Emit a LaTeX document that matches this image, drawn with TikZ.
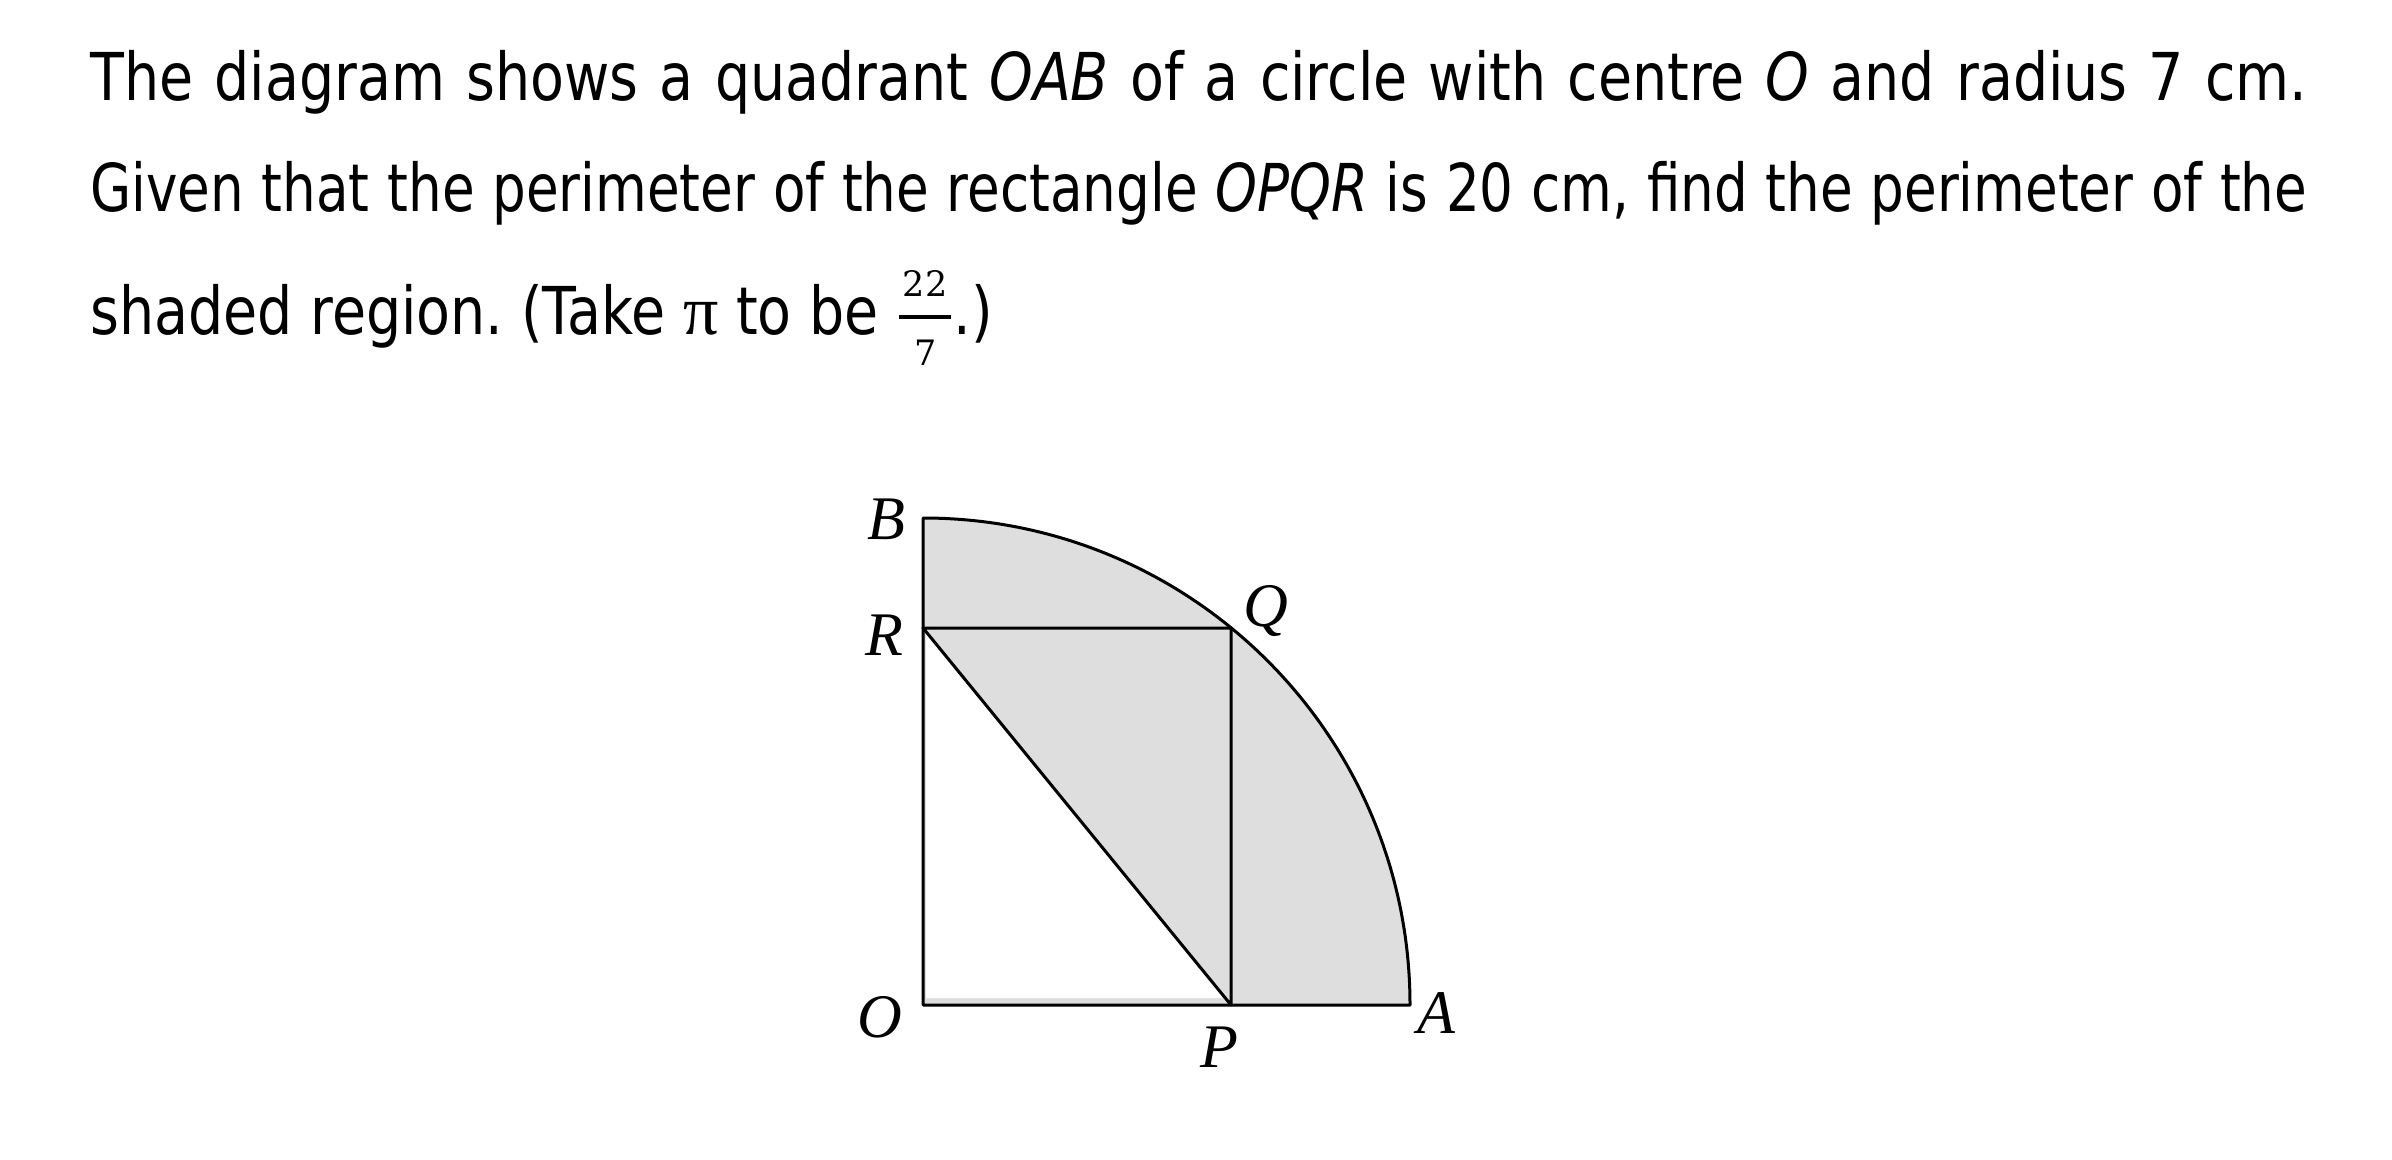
\documentclass[tikz,border=0pt]{standalone}
\usepackage{fontspec}
\usetikzlibrary{calc}
\newfontfamily\txtfont[FakeStretch=0.84]{DejaVu Sans}
\newfontfamily\txtfontnarrow[FakeStretch=0.805]{DejaVu Sans}
\newfontfamily\lblfont{Liberation Serif}
\newfontfamily\fracfont{DejaVu Serif}
\definecolor{regiongray}{RGB}{222,222,222}
\frenchspacing
\begin{document}
\begin{tikzpicture}[x=0.5pt,y=-0.5pt,
  txt/.style={inner sep=0pt, font=\txtfont\fontsize{33}{40}\selectfont},
  txtn/.style={inner sep=0pt, font=\txtfontnarrow\fontsize{33}{40}\selectfont},
  lbl/.style={inner sep=0pt, font=\lblfont\itshape\fontsize{31}{36}\selectfont},
  fracdigit/.style={inner sep=0pt, font=\fracfont\fontsize{17.5}{20}\selectfont},
  edge/.style={line width=1.5pt, line join=round, line cap=round}]
\useasboundingbox[fill=white] (0,0) rectangle (2392,1160);

% --- text ---
\node[txt, anchor=base west] (l1) at (90,101) {\makebox[1108.5pt][s]{The diagram shows a quadrant \textit{OAB} of a circle with centre \textit{O} and radius 7 cm.}};
\node[txtn, anchor=base west] (l2) at (90,212) {\makebox[1108.5pt][s]{Given that the perimeter of the rectangle \textit{OPQR} is 20 cm, find the perimeter of the}};
\node[txt, anchor=base west] (l3) at (90,335) {shaded region. (Take {\lblfont\fontsize{35}{40}\selectfont π} to be};
\coordinate (fl) at ($(l3.base east)+(20,-18)$);
\coordinate (fr) at ($(fl)+(52,0)$);
\draw[line width=1.75pt] (fl) -- (fr);
\node[fracdigit, anchor=base] (num) at ($(fl)!0.5!(fr)+(0,-20)$) {22};
\node[fracdigit, anchor=base] (den) at ($(fl)!0.5!(fr)+(0,48)$) {7};
\node[txt, anchor=base west] (l3b) at ($(fr)+(2,18)$) {.)};

% --- figure ---
\coordinate (O) at (923,1005);
\coordinate (A) at (1410,1005);
\coordinate (B) at (923,518);
\coordinate (P) at (1231,1005);
\coordinate (R) at (923,628);
\coordinate (Q) at (1231,628);
\coordinate (w1) at (926,631.7);
\coordinate (w2) at (926,998);
\coordinate (w3) at (1225.3,998);

\fill[regiongray] (O) -- (A) arc[start angle=0, end angle=90, radius=243.5pt] -- cycle;
\fill[white] (w1) -- (w2) -- (w3) -- cycle;

\draw[edge] (B) -- (O) -- (A) arc[start angle=0, end angle=90, radius=243.5pt];
\draw[edge] (R) -- (Q) -- (P) -- cycle;

% --- labels ---
\node[lbl, anchor=base] (lB) at (886,539) {B};
\node[lbl, anchor=base] (lR) at (884,655) {R};
\node[lbl, anchor=base] (lQ) at (1266,626) {Q};
\node[lbl, anchor=base] (lO) at (880,1037) {O};
\node[lbl, anchor=base] (lP) at (1219,1067) {P};
\node[lbl, anchor=base] (lA) at (1436,1033) {A};
\end{tikzpicture}
\end{document}
